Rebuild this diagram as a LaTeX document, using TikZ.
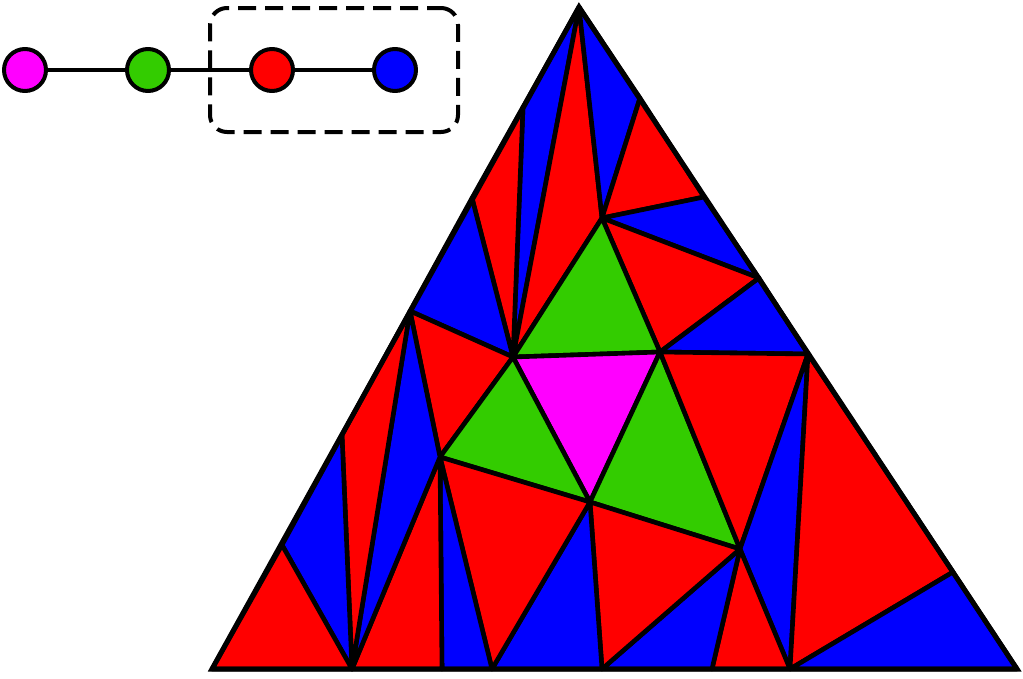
\documentclass[tikz,border=0pt]{standalone}
\definecolor{myred}{RGB}{255,0,0}
\definecolor{myblue}{RGB}{0,0,255}
\definecolor{mygreen}{RGB}{51,204,0}
\definecolor{mymag}{RGB}{255,0,255}
\begin{document}
\begin{tikzpicture}[x=1pt,y=-1pt,line join=round,
  tri/.style={draw=black,line width=4.6pt},
  vtx/.style={circle,draw=black,line width=4pt,minimum size=42pt,inner sep=0pt},
  link/.style={draw=black,line width=4pt},
  frame/.style={draw=black,line width=4pt,dash pattern=on 18pt off 9pt,dash phase=4pt,rounded corners=17pt,minimum width=248pt,minimum height=124pt}]
\useasboundingbox (0,0) rectangle (1023,678);
% outer vertices
\coordinate (T) at (579,7);
\coordinate (BL) at (212,669);
\coordinate (BR) at (1017,669);
% left edge
\coordinate (L1) at (523,107);
\coordinate (L2) at (472,198);
\coordinate (L3) at (410,311);
\coordinate (L4) at (342,435);
\coordinate (L5) at (282,545);
% bottom edge
\coordinate (B1) at (352,669);
\coordinate (B2) at (442,669);
\coordinate (B3) at (492,669);
\coordinate (B4) at (602,669);
\coordinate (B5) at (712,669);
\coordinate (B6) at (790,669);
% right edge
\coordinate (R1) at (640,98);
\coordinate (R2) at (704,197);
\coordinate (R3) at (759,278);
\coordinate (R4) at (808,354);
\coordinate (R5) at (953,572);
% interior
\coordinate (P1) at (602,218);
\coordinate (P2) at (513,357);
\coordinate (P3) at (660,352);
\coordinate (P4) at (440,457);
\coordinate (P5) at (590,502);
\coordinate (P6) at (740,549);
% triangles
\filldraw[tri,fill=myblue] (T)--(L1)--(P2)--cycle;
\filldraw[tri,fill=myred] (L1)--(L2)--(P2)--cycle;
\filldraw[tri,fill=myblue] (L2)--(L3)--(P2)--cycle;
\filldraw[tri,fill=myred] (L3)--(P2)--(P4)--cycle;
\filldraw[tri,fill=myred] (T)--(P1)--(P2)--cycle;
\filldraw[tri,fill=myblue] (T)--(R1)--(P1)--cycle;
\filldraw[tri,fill=myred] (R1)--(R2)--(P1)--cycle;
\filldraw[tri,fill=myblue] (R2)--(R3)--(P1)--cycle;
\filldraw[tri,fill=myred] (P1)--(R3)--(P3)--cycle;
\filldraw[tri,fill=myblue] (R3)--(R4)--(P3)--cycle;
\filldraw[tri,fill=mygreen] (P1)--(P2)--(P3)--cycle;
\filldraw[tri,fill=mymag] (P2)--(P3)--(P5)--cycle;
\filldraw[tri,fill=mygreen] (P2)--(P4)--(P5)--cycle;
\filldraw[tri,fill=mygreen] (P3)--(P5)--(P6)--cycle;
\filldraw[tri,fill=myred] (P3)--(R4)--(P6)--cycle;
\filldraw[tri,fill=myblue] (P6)--(R4)--(B6)--cycle;
\filldraw[tri,fill=myred] (R4)--(R5)--(B6)--cycle;
\filldraw[tri,fill=myblue] (R5)--(BR)--(B6)--cycle;
\filldraw[tri,fill=myred] (P6)--(B5)--(B6)--cycle;
\filldraw[tri,fill=myblue] (P6)--(B4)--(B5)--cycle;
\filldraw[tri,fill=myred] (P5)--(B4)--(P6)--cycle;
\filldraw[tri,fill=myblue] (P5)--(B3)--(B4)--cycle;
\filldraw[tri,fill=myred] (P4)--(B3)--(P5)--cycle;
\filldraw[tri,fill=myblue] (P4)--(B2)--(B3)--cycle;
\filldraw[tri,fill=myred] (P4)--(B1)--(B2)--cycle;
\filldraw[tri,fill=myblue] (L3)--(P4)--(B1)--cycle;
\filldraw[tri,fill=myred] (L3)--(L4)--(B1)--cycle;
\filldraw[tri,fill=myblue] (L4)--(L5)--(B1)--cycle;
\filldraw[tri,fill=myred] (L5)--(BL)--(B1)--cycle;
\draw[black,line width=5pt,line join=miter,miter limit=4] (T)--(BL)--(BR)--cycle;
% legend graph
\node[frame] (box) at (334,70) {};
\node[vtx,fill=mymag] (g1) at (25,70) {};
\node[vtx,fill=mygreen] (g2) at (148,70) {};
\node[vtx,fill=myred] (g3) at (272,70) {};
\node[vtx,fill=myblue] (g4) at (395,70) {};
\draw[link] (g1)--(g2);
\draw[link] (g2)--(g3);
\draw[link] (g3)--(g4);
\end{tikzpicture}
\end{document}
